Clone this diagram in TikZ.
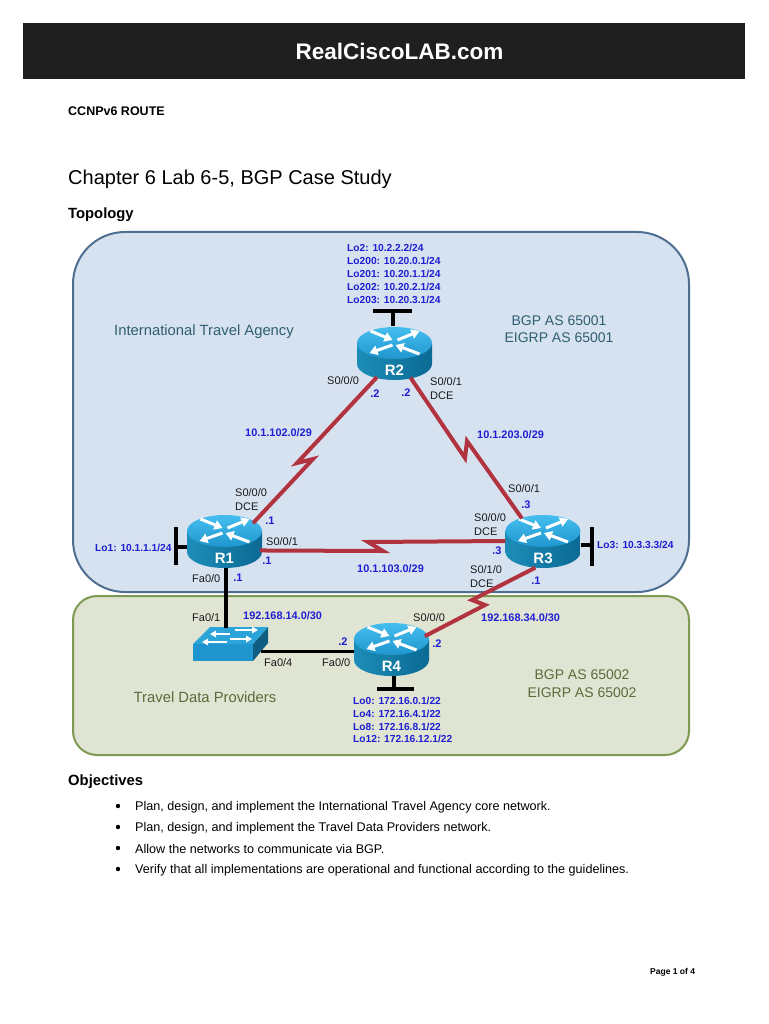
\documentclass[tikz,border=0pt]{standalone}
\usepackage{fontspec}
\setmainfont{Liberation Sans}
\usetikzlibrary{arrows.meta,shapes.geometric,calc}
\definecolor{lnk}{HTML}{B23340}
\definecolor{nblue}{HTML}{1E1ED2}
\definecolor{bfill}{HTML}{D7E2F1}
\definecolor{bline}{HTML}{4F6F91}
\definecolor{gfill}{HTML}{E0E4D3}
\definecolor{gline}{HTML}{7E9A52}
\definecolor{tteal}{HTML}{2F5F6F}
\definecolor{tgreen}{HTML}{5C6B3A}
\definecolor{rtopa}{HTML}{45BEEF}
\definecolor{rtopb}{HTML}{1F96CE}
\definecolor{rbodya}{HTML}{1C8DB8}
\definecolor{rbodyb}{HTML}{0B6A94}
\definecolor{swtopc}{HTML}{2BA4DA}
\definecolor{swfront}{HTML}{1F95CE}
\definecolor{swside}{HTML}{0F5E82}
\tikzset{
 x=1pt,y=-1pt,
 txt/.style={inner sep=0pt,anchor=west,text=black,yshift=-1pt},
 blk/.style={txt,font=\fontsize{11}{13}\selectfont,text=black!90},
 addr/.style={txt,font=\fontsize{10.9}{13}\selectfont\bfseries,text=nblue},
 lo/.style={txt,font=\fontsize{10.2}{12}\selectfont\bfseries,text=nblue},
 dot/.style={inner sep=0pt,font=\fontsize{11}{13}\selectfont\bfseries,text=nblue},
 bline/.style={line width=3.6pt,black},
 conn/.style={line width=3pt,black},
 serial/.style={line width=4pt,lnk,line join=miter},
 rarrow/.style={white,line width=3pt,-{Triangle[length=8pt,width=9.5pt]}},
 swarrow/.style={white,line width=2.2pt},
 rnode/.style={shape=ellipse,minimum width=75pt,minimum height=54pt,inner sep=0pt},
 zone/.style={txt,anchor=center,font=\fontsize{14}{16}\selectfont},
 zonew/.style={txt,anchor=center,font=\fontsize{14.8}{16}\selectfont},
 bul/.style={txt,font=\fontsize{12.6}{14}\selectfont},
 head/.style={txt,yshift=-1pt,font=\fontsize{14.8}{16}\selectfont\bfseries},
}
\newcommand{\rtr}[4]{% name, x, y(centre of top), label
 \shade[left color=rbodya,right color=rbodyb] (#2-37.5,#3) -- (#2-37.5,#3+21) arc[x radius=37.5,y radius=16,start angle=180,end angle=0] -- (#2+37.5,#3) -- cycle;
 \shade[top color=rtopa,bottom color=rtopb] (#2,#3) ellipse[x radius=37.5,y radius=16];
 \begin{scope}[shift={(#2,#3)}]
  \draw[rarrow] (-24,-12) -- (-2,-3);
  \draw[rarrow] (3,-3) -- (25,-12);
  \draw[rarrow] (-2,2) -- (-25,10);
  \draw[rarrow] (25,11) -- (1,2);
 \end{scope}
 \node[rnode] (#1) at (#2,#3+10) {};
 \node[inner sep=0pt,text=white,font=\fontsize{15}{17}\selectfont\bfseries] (#1l) at (#2,#3+27) {#4};
}
\begin{document}
\begin{tikzpicture}
\useasboundingbox (0,0) rectangle (768,1024);
\fill[white] (0,0) rectangle (768,1024);
\fill[black!88] (23,23) rectangle (745,79);
\node[inner sep=0pt,text=white,font=\fontsize{22.5}{24}\selectfont\bfseries] (title) at (399.5,51) {RealCiscoLAB.com};
\node[txt,font=\fontsize{12.5}{14}\selectfont\bfseries] (course) at (68,110) {CCNPv6 ROUTE};
\node[txt,yshift=-1pt,font=\fontsize{20}{22}\selectfont] (chap) at (68,177) {Chapter 6 Lab 6-5, BGP Case Study};
\node[head] (topo) at (68,213) {Topology};
\node[head] (obj) at (68,780) {Objectives};
% zones
\draw[line width=2pt,draw=bline,fill=bfill,rounded corners=52pt] (73,232) rectangle (689,592);
\draw[line width=2pt,draw=gline,fill=gfill,rounded corners=24pt] (73,596) rectangle (689,755);
\node[zonew,text=tteal] (ita) at (204,331) {International Travel Agency};
\node[zone,text=tteal] (as1) at (559,320) {BGP AS 65001};
\node[zone,text=tteal] (as1b) at (559,337) {EIGRP AS 65001};
\node[zonew,text=tgreen] (tdp) at (205,696) {Travel Data Providers};
\node[zone,text=tgreen] (as2) at (582,674) {BGP AS 65002};
\node[zone,text=tgreen] (as2b) at (582,692) {EIGRP AS 65002};
% routers
\rtr{R1}{224.5}{531}{R1}
\rtr{R2}{394.5}{343}{R2}
\rtr{R3}{543}{531}{R3}
\rtr{R4}{391.5}{639}{R4}
% switch
\fill[swside] (253,644) -- (268,627) -- (268,643) -- (253,661) -- cycle;
\fill[swfront] (193,644) rectangle (253,661);
\fill[swtopc] (193,644) -- (210,627) -- (268,627) -- (253,644) -- cycle;
\node[inner sep=0pt,minimum width=75pt,minimum height=34pt] (SW) at (230.5,644) {};
\draw[swarrow,{Triangle[length=6pt,width=6.5pt]}-] (210,634) -- (230,634);
\draw[swarrow,-{Triangle[length=6pt,width=6.5pt]}] (235,630) -- (258,630);
\draw[swarrow,{Triangle[length=6pt,width=6.5pt]}-] (202,642) -- (227,642);
\draw[swarrow,-{Triangle[length=6pt,width=6.5pt]}] (230,639) -- (252,639);
% stub networks
\coordinate (lo1a) at (176,527); \coordinate (lo1b) at (176,565); \coordinate (lo1m) at (176,547);
\coordinate (lo3a) at (592,527); \coordinate (lo3b) at (592,566); \coordinate (lo3m) at (592,545);
\coordinate (lo2a) at (373,311); \coordinate (lo2b) at (412,311); \coordinate (lo2m) at (393,311);
\coordinate (lo4a) at (377,689); \coordinate (lo4b) at (414,689); \coordinate (lo4m) at (394,689);
\draw[bline] (lo1a) -- (lo1b); \draw[bline] (lo1m) -- (R1.west |- lo1m);
\draw[bline] (lo3a) -- (lo3b); \draw[bline] (lo3m) -- (R3.east |- lo3m);
\draw[bline] (lo2a) -- (lo2b); \draw[bline] (lo2m) -- (R2.north -| lo2m);
\draw[bline] (lo4a) -- (lo4b); \draw[bline] (lo4m) -- (R4.south -| lo4m);
% ethernet
\coordinate (swtop) at (226,628); \coordinate (swright) at (261,651);
\draw[conn,line width=3.6pt] (R1.south -| swtop) -- (swtop);
\draw[conn] (swright) -- (R4.west |- swright);
% serial
\coordinate (a2) at (297,463); \coordinate (a3) at (313,459);
\draw[serial] (R2.234) -- (a2) -- (a3) -- (R1.32);
\coordinate (b1) at (465,458); \coordinate (b2) at (467,441);
\draw[serial] (R2.303) -- (b1) -- (b2) -- (R3.133);
\coordinate (c1) at (383,551); \coordinate (c2) at (368,542);
\draw[serial] (R1.345) -- (c1) -- (c2) -- (R3.180);
\coordinate (d1) at (472,600); \coordinate (d2) at (485,605);
\draw[serial] (R3.254) -- (d1) -- (d2) -- (R4.21);
% R2 loopbacks
\node[lo] (l2a) at (347,247) {Lo2: 10.2.2.2/24};
\node[lo] (l2b) at (347,260) {Lo200: 10.20.0.1/24};
\node[lo] (l2c) at (347,273) {Lo201: 10.20.1.1/24};
\node[lo] (l2d) at (347,286) {Lo202: 10.20.2.1/24};
\node[lo] (l2e) at (347,299) {Lo203: 10.20.3.1/24};
% R4 loopbacks
\node[lo] (l4a) at (353,700) {Lo0: 172.16.0.1/22};
\node[lo] (l4b) at (353,713) {Lo4: 172.16.4.1/22};
\node[lo] (l4c) at (353,726) {Lo8: 172.16.8.1/22};
\node[lo] (l4d) at (353,738) {Lo12: 172.16.12.1/22};
\node[lo] (lo1t) at (95,547) {Lo1: 10.1.1.1/24};
\node[lo] (lo3t) at (597,544) {Lo3: 10.3.3.3/24};
% subnets
\node[addr] (n1) at (245,432) {10.1.102.0/29};
\node[addr] (n2) at (477,434) {10.1.203.0/29};
\node[addr] (n3) at (357,568) {10.1.103.0/29};
\node[addr] (n4) at (243,615) {192.168.14.0/30};
\node[addr] (n5) at (481,617) {192.168.34.0/30};
% interfaces
\node[blk] (i1) at (327,380) {S0/0/0};
\node[blk] (i2) at (430,381) {S0/0/1};
\node[blk] (i3) at (430,395) {DCE};
\node[blk] (i4) at (508,488) {S0/0/1};
\node[blk] (i5) at (235,492) {S0/0/0};
\node[blk] (i6) at (235,506) {DCE};
\node[blk] (i7) at (266,541) {S0/0/1};
\node[blk] (i8) at (192,578) {Fa0/0};
\node[blk] (i9) at (192,617) {Fa0/1};
\node[blk] (i10) at (264,662) {Fa0/4};
\node[blk] (i11) at (322,662) {Fa0/0};
\node[blk] (i12) at (474,517) {S0/0/0};
\node[blk] (i13) at (474,531) {DCE};
\node[blk] (i14) at (470,569) {S0/1/0};
\node[blk] (i15) at (470,583) {DCE};
\node[blk] (i16) at (413,617) {S0/0/0};
% host ids
\node[dot] (d-a) at (375,394) {.2};
\node[dot] (d-b) at (406,393) {.2};
\node[dot] (d-c) at (270,521) {.1};
\node[dot] (d-d) at (267,561) {.1};
\node[dot] (d-e) at (238,578) {.1};
\node[dot] (d-f) at (343,642) {.2};
\node[dot] (d-g) at (526,505) {.3};
\node[dot] (d-h) at (497,551) {.3};
\node[dot] (d-i) at (536,581) {.1};
\node[dot] (d-j) at (437,644) {.2};
% objectives
\foreach \yy/\tt in {806/{Plan, design, and implement the International Travel Agency core network.},
 827/{Plan, design, and implement the Travel Data Providers network.},
 848/{Allow the networks to communicate via BGP.},
 869/{Verify that all implementations are operational and functional according to the guidelines.}}{
 \fill[black] (118,\yy) circle[radius=2.2];
 \node[bul] at (135,\yy) {\tt};
}
\node[txt,font=\fontsize{8.5}{10}\selectfont\bfseries] (page) at (650,971) {Page 1 of 4};
\end{tikzpicture}
\end{document}
